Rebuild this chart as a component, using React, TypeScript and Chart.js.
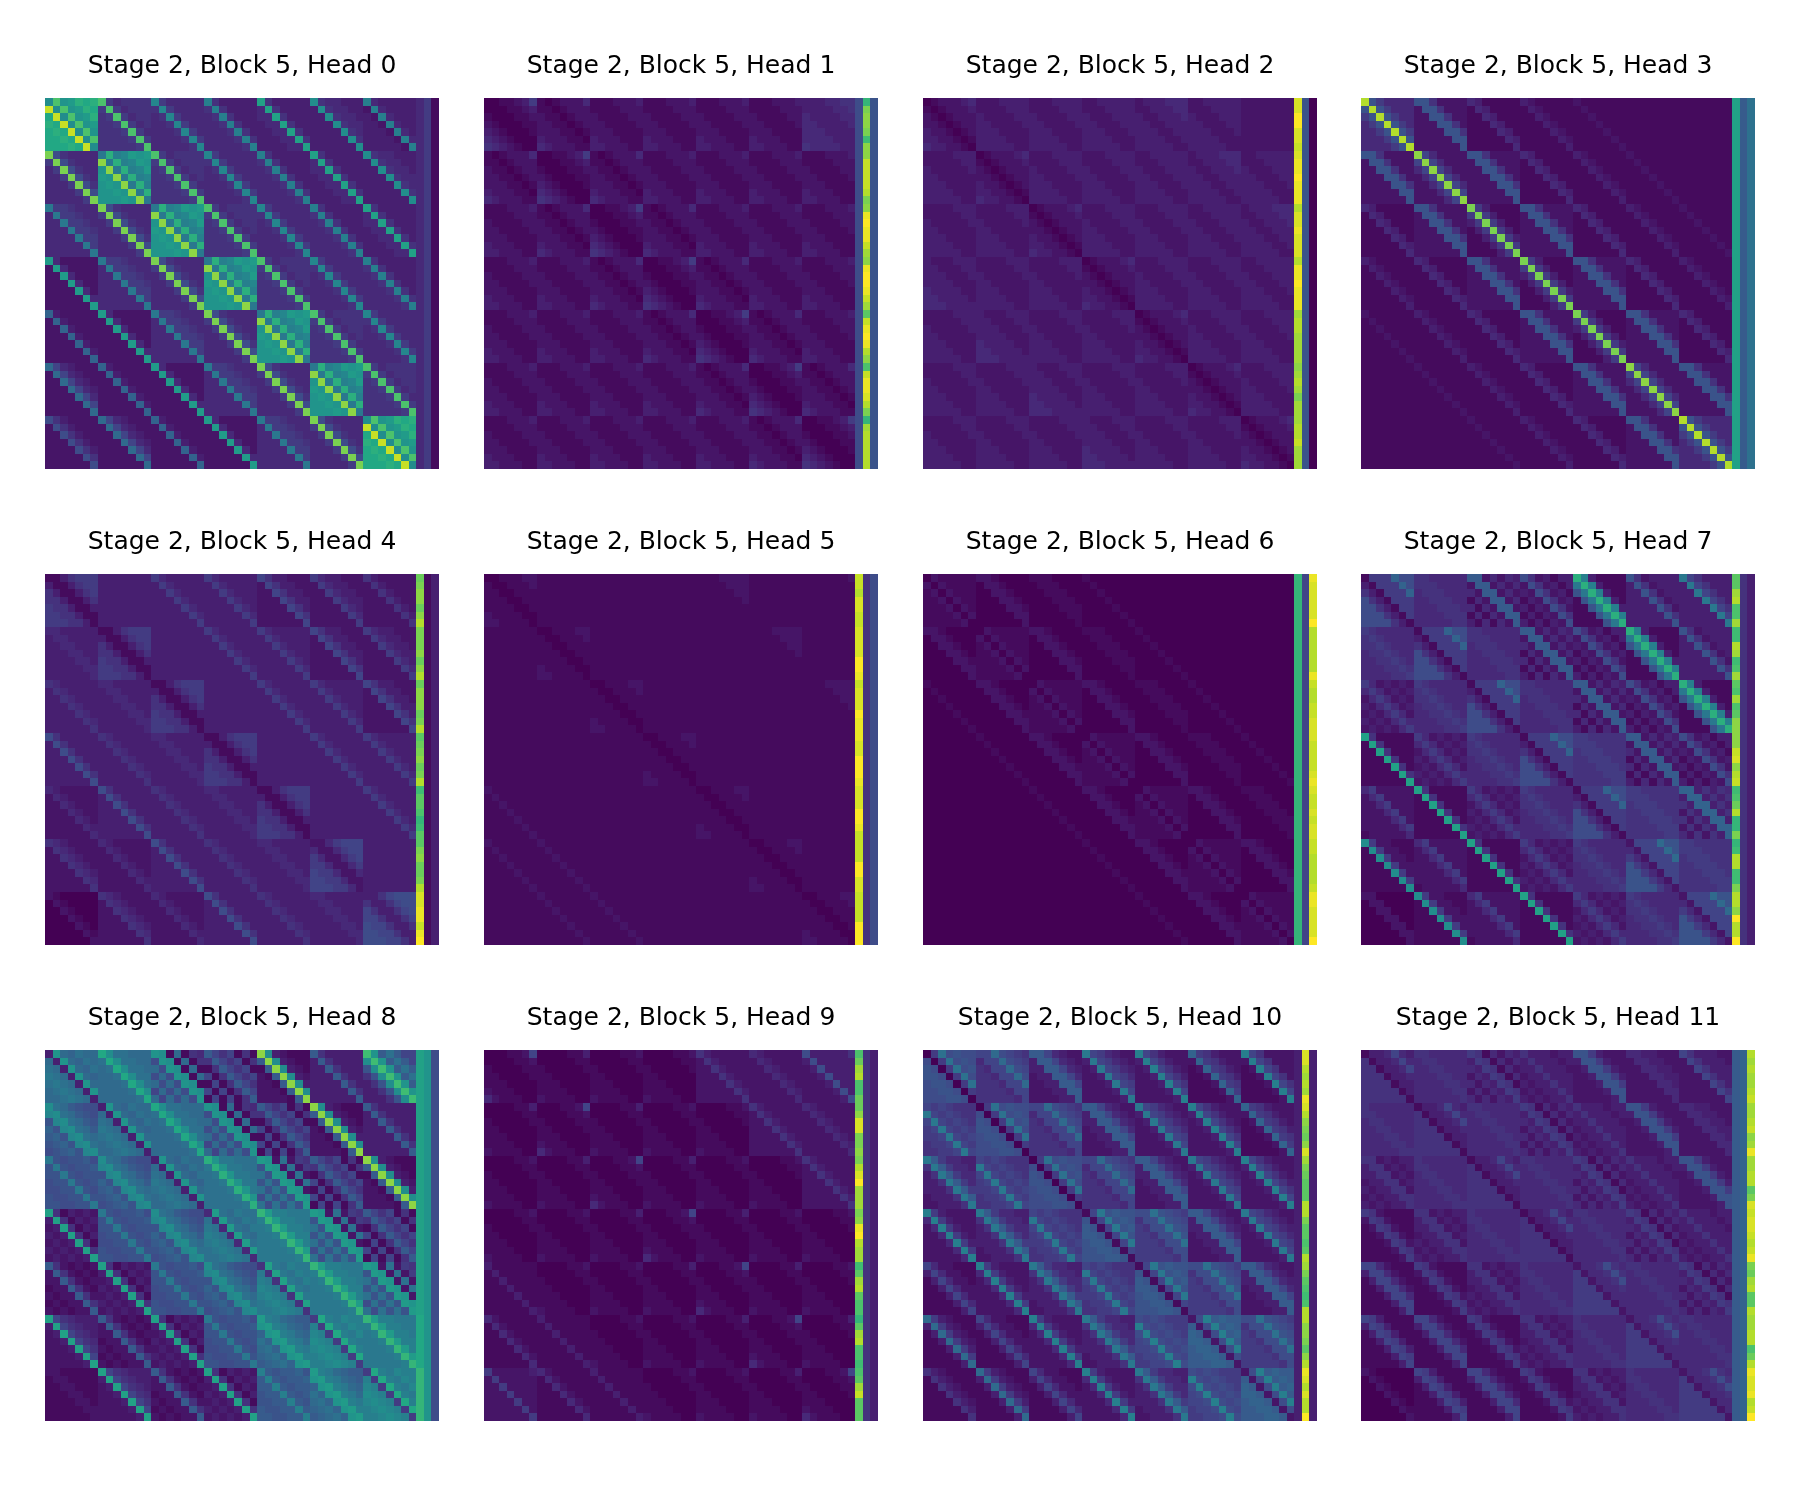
import React, { useEffect, useRef } from "react";
import { Chart, registerables } from "chart.js";

Chart.register(...registerables);

// Values were estimated by eye from the picture, in base 36 (0 = 0.0 ... z = 1.0 of the colour range).
// The 49x49 part of each panel is read as 7x7 blocks: one row per block distance (-6..6), one
// character per within-block diagonal (-6..6). The last three columns are read per row.
const ROWS = 49;
const COLS = 52;
const TITLES = [0, 1, 2, 3, 4, 5, 6, 7, 8, 9, 10, 11].map((h) => `Stage 2, Block 5, Head ${h}`);
const PANEL_X = [45, 484, 923, 1361];
const PANEL_Y = [98, 574, 1050];

const BAND_0 = ["2222228532222", "222222c743222", "222222b322222", "222222j422222", "444444e665444", "444446s854444", "iiijitemfgjij", "555556p645555", "444445g644444", "444445f533333", "333344k533333", "333333h544333", "333332f433333"];
const BAND_1 = ["3322211112223", "3322211112223", "3322211112223", "3322211112223", "3322211112223", "4322211012224", "5432100011236", "4322211012224", "3322211112223", "3322211112223", "3322211112223", "3322211112223", "4333322223344"];
const BAND_2 = ["3333322222333", "3333322222333", "3333322222333", "4443333222333", "3333322222333", "3333322222333", "4332210122234", "3333322223333", "3333322223333", "3333322233333", "3333322333444", "3333322233333", "2222222222222"];
const BAND_3 = ["1111111111111", "1111111111111", "1111112111111", "1111113211111", "1111114311111", "2222229952222", "222247t742222", "2222229952222", "1111114311111", "1111113211111", "1111112111111", "1111111111111", "1111111111111"];
const BAND_4 = ["0000002100000", "2222225432222", "2222224322222", "3333338533333", "3333335433333", "3333334433333", "6665531135666", "3333333333333", "3333336433333", "3333336433333", "2222227533222", "2222226433222", "2222225322222"];
const BAND_5 = ["1111111111111", "1111112111111", "1111112111111", "1111111111111", "1111111111111", "1111111111111", "2211110011122", "1111111111111", "1111111111111", "1111111111111", "1111111112222", "1111111111111", "1111111111112"];
const BAND_6 = ["0000000000000", "0000000000000", "0000000000000", "0000000000000", "0000001000000", "0000002210000", "1111120211111", "0000002210000", "0000001110000", "0000001000000", "0000000000000", "0000000000000", "0000000000000"];
const BAND_7 = ["0000002200000", "111111h622111", "1222224622222", "111111k511111", "2323246423232", "4444556544444", "8888531666b88", "4444455544444", "314142aa24243", "3131328523133", "11119emf31111", "3333339523333", "333333e753333"];
const BAND_8 = ["1111112211111", "222223k754333", "212122a521212", "232323k513232", "998899e9899a8", "89ab9ghdca988", "ccdedc3icbdcc", "cccccdlhddccc", "c7c8c8ih1c154", "171715a757151", "22221ath32111", "333333a533333", "33359hoiada77"];
const BAND_9 = ["2222226222223", "1111114211111", "1111113111111", "2111100000112", "2111100000112", "2111100000113", "4211100001127", "2111100000113", "2111100000112", "2111100000112", "2222225322222", "2222224322222", "2222238333335"];
const BAND_10 = ["1111115321111", "111113c632111", "1111137422111", "222224f632222", "223335ea64433", "55667e7676555", "88899806d8988", "55555477c8765", "222233aa74322", "222223e764322", "222223f753222", "111112b653222", "111112f752222"];
const BAND_11 = ["0000002100000", "1111137631111", "1111137742111", "1111126521111", "3232335523233", "4444455444444", "5555551334743", "4444445544444", "4242436514243", "3232335333233", "2222239963222", "2222224433222", "2222227533322"];
const BANDS = [BAND_0, BAND_1, BAND_2, BAND_3, BAND_4, BAND_5, BAND_6, BAND_7, BAND_8, BAND_9, BAND_10, BAND_11];

// Block brightness offsets, 5 = none.
const GAIN_0 = ["8555555", "5555555", "5555555", "5555555", "5555555", "5555555", "5555558"];
const GAIN_1 = ["5555556", "5555555", "5555555", "5555555", "5555555", "5555555", "5555555"];
const GAIN_2 = ["5555555", "5555555", "5555555", "5555555", "5555555", "5555555", "5555555"];
const GAIN_3 = ["7555555", "5555555", "5545555", "5554555", "5555455", "5555555", "5555557"];
const GAIN_4 = ["5555555", "5555555", "5555555", "5555555", "5555555", "5555565", "5555557"];
const GAIN_5 = ["5555555", "5555555", "5555555", "5555555", "5555555", "5555555", "5555555"];
const GAIN_6 = ["5555555", "5555555", "5555555", "5555555", "5555555", "5555555", "5555555"];
const GAIN_7 = ["5555555", "5555555", "5555555", "5555655", "5555566", "5555566", "5555556"];
const GAIN_8 = ["5555555", "5555555", "5556655", "5556765", "5555776", "5555787", "5555678"];
const GAIN_9 = ["5555555", "5555555", "5555555", "5555555", "5555555", "5555555", "5555555"];
const GAIN_10 = ["5555555", "5555555", "5555555", "5556655", "5555665", "5555676", "5555567"];
const GAIN_11 = ["5555555", "5555555", "5555555", "5555555", "5555655", "5555565", "5555556"];
const GAINS = [GAIN_0, GAIN_1, GAIN_2, GAIN_3, GAIN_4, GAIN_5, GAIN_6, GAIN_7, GAIN_8, GAIN_9, GAIN_10, GAIN_11];

// Columns 49, 50, 51 of each panel; a single character holds for every row.
const TAIL_0 = ["4", "6", "1"];
const TAIL_1 = ["8", "nsttsot" + "twwwwvs" + "tyzyywu" + "tyzzywu" + "qwyzyvt" + "pwyyxvs" + "nuvvvvv", "9"];
const TAIL_2 = ["xxzzxxw" + "xyyzyyy" + "vxxyxxx" + "vyyzyyy" + "uvvuuuu" + "tuvusuu" + "uvvwuuu", "9", "0"];
const TAIL_3 = ["k", "a", "d"];
const TAIL_4 = ["rsttrtv" + "ssstrtv" + "rtttrsv" + "qrstrsv" + "oqqpnoq" + "qstrrsv" + "xxyywyz", "1", "3"];
const TAIL_5 = ["wwvxxww" + "xxxxzzy" + "wxxxzyy" + "yxxzzzy" + "xxxzzyw" + "wwwzzxx" + "wwwwzzz", "5", "8"];
const TAIL_6 = ["n", "7", "yxxxxxz" + "vvvvvvy" + "wvvwwxx" + "xwwwwxy" + "xwwxwxx" + "wwvvvvw" + "yyxxxxz"];
const TAIL_7 = ["qquvppu" + "oovuopu" + "qpupqtt" + "ttwxtvw" + "oprvnns" + "novvoos" + "vvtzvvz", "5", "3"];
const TAIL_8 = ["kkkkkkk" + "kkkkkkk" + "kkkkkkk" + "kkkkkkk" + "kkkkkkk" + "lllllll" + "nnnnnnn", "i", "8"];
const TAIL_9 = ["pruvppr" + "rtxxsst" + "svxzuuu" + "styzvuu" + "oquvqpp" + "nquvppo" + "pquwqqq", "5", "3"];
const TAIL_10 = ["3", "xxvuvuy" + "xvtsrtx" + "usrqqqv" + "vsqqpqv" + "usqpopv" + "vttsqtv" + "yxvxvvz", "3"];
const TAIL_11 = ["a", "b", "vuvuuvw" + "uuvwtuy" + "uuvvqsx" + "wxxwvwy" + "sruvqqv" + "uuvvprv" + "yxxyvwz"];
const TAILS = [TAIL_0, TAIL_1, TAIL_2, TAIL_3, TAIL_4, TAIL_5, TAIL_6, TAIL_7, TAIL_8, TAIL_9, TAIL_10, TAIL_11];

const VIRIDIS = [
  [68, 1, 84], [72, 36, 117], [65, 68, 135], [53, 95, 141], [42, 120, 142], [33, 145, 140],
  [34, 168, 132], [68, 191, 112], [122, 209, 81], [189, 223, 38], [253, 231, 37],
];

function viridis(v: number): string {
  const t = Math.min(0.9999, Math.max(0, v)) * 10;
  const i = Math.floor(t);
  const f = t - i;
  const a = VIRIDIS[i];
  const b = VIRIDIS[i + 1];
  const c = [0, 1, 2].map((n) => Math.round(a[n] + (b[n] - a[n]) * f));
  return `rgb(${c[0]},${c[1]},${c[2]})`;
}

function cellsFor(panel: number) {
  const cells: { x: number; y: number; v: number }[] = [];
  const band = BANDS[panel];
  const gain = GAINS[panel];
  const tail = TAILS[panel];
  for (let r = 0; r < ROWS; r++) {
    for (let c = 0; c < COLS; c++) {
      let code: number;
      if (c >= 49) {
        const s = tail[c - 49];
        code = parseInt(s.length === 1 ? s : s[r], 36);
      } else {
        const a = Math.floor(r / 7);
        const b = Math.floor(c / 7);
        const k = b - a + 6;
        const d = c % 7 - r % 7 + 6;
        code = parseInt(band[k][d], 36) + parseInt(gain[a][b], 10) - 5;
      }
      cells.push({ x: c, y: r, v: Math.min(35, Math.max(0, code)) / 35 });
    }
  }
  return cells;
}

const cellPlugin = {
  id: "cellPlugin",
  afterDatasetsDraw(chart: any) {
    const { ctx, scales } = chart;
    const data = chart.data.datasets[0].data;
    ctx.save();
    for (const p of data) {
      const x0 = Math.round(scales.x.getPixelForValue(p.x));
      const x1 = Math.round(scales.x.getPixelForValue(p.x + 1));
      const y0 = Math.round(scales.y.getPixelForValue(p.y));
      const y1 = Math.round(scales.y.getPixelForValue(p.y + 1));
      ctx.fillStyle = viridis(p.v);
      ctx.fillRect(x0, y0, x1 - x0, y1 - y0);
    }
    ctx.restore();
  },
};

const PANEL_W = 394;
const PANEL_H = 371;
const HEAD = 54;

function Panel({ index }: { index: number }) {
  const ref = useRef<HTMLCanvasElement>(null);
  useEffect(() => {
    if (!ref.current) return;
    const chart = new Chart(ref.current, {
      type: "scatter",
      data: { datasets: [{ data: cellsFor(index), pointRadius: 0, pointHitRadius: 0 }] },
      plugins: [cellPlugin],
      options: {
        animation: false,
        responsive: false,
        events: [],
        layout: { padding: 0 },
        scales: {
          x: { type: "linear", min: 0, max: COLS, display: false },
          y: { type: "linear", min: 0, max: ROWS, reverse: true, display: false },
        },
        plugins: {
          legend: { display: false },
          tooltip: { enabled: false },
          title: {
            display: true,
            text: TITLES[index],
            color: "#000000",
            font: { family: "'DejaVu Sans'", size: 25, weight: "normal", lineHeight: 1.2 },
            padding: { top: 7, bottom: 17 },
          },
        },
      },
    } as any);
    return () => chart.destroy();
  }, [index]);
  const col = index % 4;
  const row = Math.floor(index / 4);
  return (
    <canvas
      ref={ref}
      width={PANEL_W}
      height={PANEL_H + HEAD}
      style={{ position: "absolute", left: PANEL_X[col], top: PANEL_Y[row] - HEAD, width: PANEL_W, height: PANEL_H + HEAD }}
    />
  );
}

export default function App() {
  return (
    <div style={{ position: "absolute", left: 0, top: 0, width: 1800, height: 1500, background: "#ffffff" }}>
      {TITLES.map((_, i) => (
        <Panel key={i} index={i} />
      ))}
    </div>
  );
}
